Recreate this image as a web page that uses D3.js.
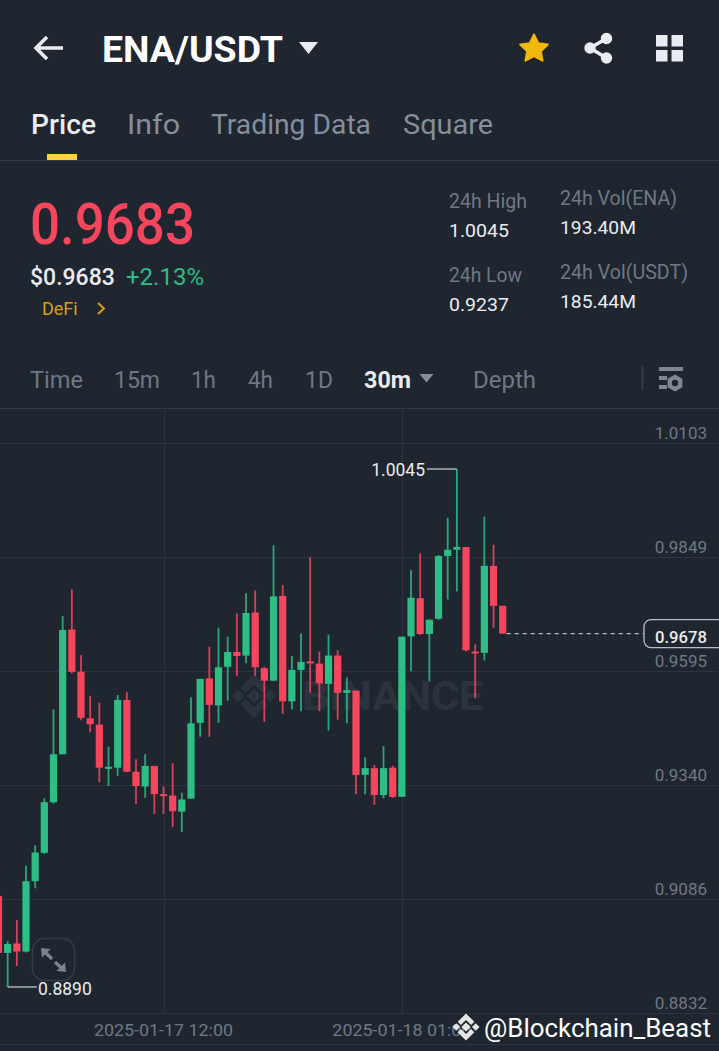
<!DOCTYPE html>
<html>
<head>
<meta charset="utf-8">
<script src="https://cdn.jsdelivr.net/npm/d3@7"></script>
<style>
  html, body { margin: 0; padding: 0; background: #1f2630; }
  svg { display: block; }
  text { font-family: Roboto, sans-serif; }
</style>
</head>
<body>
<svg id="chart"></svg>
<script>
// candles, oldest first, 30m interval
const opens = [0.9093,0.8966,0.8987,0.8969,0.9126,0.9189,0.9302,0.9409,0.9687,0.9593,0.9489,0.9475,0.9378,0.9379,0.9530,0.9370,0.9337,0.9383,0.9320,0.9317,0.9281,0.9310,0.9479,0.9578,0.9518,0.9604,0.9637,0.9629,0.9725,0.9601,0.9573,0.9762,0.9527,0.9597,0.9616,0.9611,0.9566,0.9629,0.9546,0.9551,0.9363,0.9378,0.9318,0.9379,0.9314,0.9672,0.9757,0.9677,0.9711,0.9851,0.9865,0.9871,0.9638,0.9635,0.9829,0.9740];
const highs = [0.9106,0.8992,0.9039,0.9161,0.9206,0.9311,0.9509,0.9717,0.9777,0.9630,0.9539,0.9524,0.9426,0.9541,0.9548,0.9398,0.9409,0.9383,0.9337,0.9389,0.9323,0.9536,0.9577,0.9649,0.9691,0.9671,0.9723,0.9768,0.9774,0.9604,0.9875,0.9786,0.9628,0.9678,0.9848,0.9638,0.9676,0.9641,0.9580,0.9551,0.9402,0.9385,0.9427,0.9383,0.9671,0.9819,0.9857,0.9709,0.9853,0.9936,1.0045,0.9871,0.9654,0.9939,0.9876,0.9740];
const lows = [0.8957,0.8890,0.8937,0.8967,0.9110,0.9187,0.9299,0.9409,0.9589,0.9485,0.9458,0.9346,0.9338,0.9361,0.9369,0.9298,0.9312,0.9276,0.9276,0.9247,0.9236,0.9309,0.9448,0.9448,0.9479,0.9528,0.9583,0.9612,0.9584,0.9481,0.9573,0.9499,0.9509,0.9505,0.9546,0.9505,0.9462,0.9486,0.9478,0.9320,0.9320,0.9296,0.9311,0.9312,0.9314,0.9594,0.9675,0.9571,0.9709,0.9754,0.9772,0.9638,0.9534,0.9618,0.9691,0.9678];
const closes = [0.8966,0.8986,0.8969,0.9126,0.9190,0.9302,0.9409,0.9686,0.9593,0.9490,0.9476,0.9379,0.9381,0.9530,0.9370,0.9338,0.9383,0.9320,0.9316,0.9282,0.9308,0.9478,0.9577,0.9519,0.9603,0.9637,0.9628,0.9724,0.9603,0.9573,0.9761,0.9527,0.9597,0.9615,0.9612,0.9567,0.9629,0.9546,0.9552,0.9363,0.9378,0.9318,0.9378,0.9314,0.9671,0.9758,0.9677,0.9709,0.9851,0.9865,0.9871,0.9641,0.9635,0.9829,0.9740,0.9678];

const priceTicks = [1.0103, 0.9849, 0.9595, 0.9340, 0.9086, 0.8832];
const timeTicks = [18, 44];
const timeLabels = ["2025-01-17 12:00", "2025-01-18 01:00"];
const lastPrice = 0.9678;
const highMark = { i: 50, v: 1.0045 };
const lowMark = { i: 1, v: 0.8890 };

const tabs = ["Price", "Info", "Trading Data", "Square"];
const tabX = [31, 127, 211, 403];
const tabW = [65, 53, 160, 90];
const intervals = ["Time", "15m", "1h", "4h", "1D", "30m", "Depth"];
const intervalX = [30, 114, 191, 248, 305, 364, 473];
const intervalW = [53, 46, 25, 25, 28, 47, 63];

const width = 719;
const height = 1051;
const bg = "#1f2630";
const green = "#2ebd85";
const red = "#f6465d";
const grid = "#2e343f";
const white = "#eaecef";
const grey = "#848e9c";
const dimGrey = "#6f7885";

const svg = d3.select("#chart").attr("width", width).attr("height", height);
svg.append("rect").attr("width", width).attr("height", height).attr("fill", bg);

const x = d3.scaleLinear().domain([0, 55]).range([-1.5, 502.7]);
const y = d3.scaleLinear().domain([0.8832, 1.0103]).range([1013, 443]);

function label(str, px, py, size, color, weight, anchor, fit) {
  const t = svg.append("text")
    .attr("x", px)
    .attr("y", py)
    .attr("font-size", size)
    .attr("fill", color)
    .attr("font-weight", weight || 400)
    .attr("text-anchor", anchor || "start")
    .text(str);
  if (fit) t.attr("textLength", fit).attr("lengthAdjust", "spacingAndGlyphs");
  return t;
}

// header
svg.append("path")
  .attr("d", "M36 48H63M47 37L36 48L47 59")
  .attr("fill", "none")
  .attr("stroke", white)
  .attr("stroke-width", 3.6);
label("ENA/USDT", 102, 62, 36, "#ffffff", 700, "start", 181);
svg.append("path").attr("d", "M299 42H318L308.5 54Z").attr("fill", white);

const star = d3.range(10).map((i) => {
  const r = i % 2 ? 7.2 : 14.5;
  const a = (i * Math.PI) / 5;
  return [534 + r * Math.sin(a), 49 - r * Math.cos(a)];
});
svg.append("path")
  .attr("d", d3.line().curve(d3.curveLinearClosed)(star))
  .attr("fill", "#f0b90b")
  .attr("stroke", "#f0b90b")
  .attr("stroke-width", 2)
  .attr("stroke-linejoin", "round");

svg.append("path")
  .attr("d", "M606.5 38.5L590 48L606.5 58")
  .attr("fill", "none")
  .attr("stroke", white)
  .attr("stroke-width", 3.5);
[[606.5, 38.5], [590, 48], [606.5, 58]].forEach((c) => {
  svg.append("circle").attr("cx", c[0]).attr("cy", c[1]).attr("r", 5.7).attr("fill", white);
});
[[656, 35], [671.5, 35], [656, 50], [671.5, 50]].forEach((c) => {
  svg.append("rect").attr("x", c[0]).attr("y", c[1]).attr("width", 11.5).attr("height", 11.5).attr("fill", white);
});

// tabs
tabs.forEach((t, i) => {
  label(t, tabX[i], 134, 28, i === 0 ? white : grey, i === 0 ? 500 : 400, "start", tabW[i]);
});
svg.append("rect").attr("x", 47).attr("y", 154).attr("width", 30).attr("height", 6).attr("fill", "#fcd535");
svg.append("line").attr("x1", 0).attr("x2", width).attr("y1", 160.5).attr("y2", 160.5).attr("stroke", "#333a46");

// ticker block
label("0.9683", 30, 244, 58, red, 500, "start", 165);
label("$0.9683", 30, 285, 23, white, 500);
label("+2.13%", 126, 285, 24, green, 400, "start", 78);
label("DeFi", 42, 315, 18, "#d6a010");
svg.append("path")
  .attr("d", "M98 303L104 308.5L98 314")
  .attr("fill", "none")
  .attr("stroke", "#d6a010")
  .attr("stroke-width", 2);

label("24h High", 449, 208, 20, dimGrey, 400, "start", 78);
label("1.0045", 449, 237, 19, white, 400, "start", 60);
label("24h Low", 449, 282, 20, dimGrey, 400, "start", 73);
label("0.9237", 449, 311, 19, white, 400, "start", 60);
label("24h Vol(ENA)", 560, 205, 20, dimGrey, 400, "start", 117);
label("193.40M", 560, 234, 19, white, 400, "start", 76);
label("24h Vol(USDT)", 560, 279, 20, dimGrey, 400, "start", 128);
label("185.44M", 560, 308, 19, white, 400, "start", 76);

// interval row
intervals.forEach((t, i) => {
  const active = t === "30m";
  label(t, intervalX[i], 388, 23, active ? white : "#6f7885", active ? 700 : 400, "start", intervalW[i]);
});
svg.append("path").attr("d", "M419.5 374H433.5L426.5 382.5Z").attr("fill", grey);
svg.append("line").attr("x1", 642.5).attr("x2", 642.5).attr("y1", 366).attr("y2", 390).attr("stroke", "#3a414d").attr("stroke-width", 1.5);
svg.append("path")
  .attr("d", "M659 369H683M659 378H667M659 387H667")
  .attr("stroke", "#808793")
  .attr("stroke-width", 4);
const nut = d3.range(6).map((i) => {
  const a = (i * Math.PI) / 3;
  return [675 + 8.5 * Math.sin(a), 383 - 8.5 * Math.cos(a)];
});
svg.append("path")
  .attr("d", d3.line().curve(d3.curveLinearClosed)(nut))
  .attr("fill", "#808793");
svg.append("circle").attr("cx", 675).attr("cy", 383).attr("r", 3.2).attr("fill", bg);

svg.append("line").attr("x1", 0).attr("x2", width).attr("y1", 408.5).attr("y2", 408.5).attr("stroke", "#333a46");

// grid
svg.append("g")
  .selectAll("line")
  .data(priceTicks)
  .join("line")
  .attr("x1", 0)
  .attr("x2", width)
  .attr("y1", (d) => Math.round(y(d)) + 0.5)
  .attr("y2", (d) => Math.round(y(d)) + 0.5)
  .attr("stroke", grid);

svg.append("g")
  .selectAll("line")
  .data(timeTicks)
  .join("line")
  .attr("x1", (d) => Math.round(x(d)) + 0.5)
  .attr("x2", (d) => Math.round(x(d)) + 0.5)
  .attr("y1", 409)
  .attr("y2", 1013)
  .attr("stroke", grid);

svg.append("line").attr("x1", 0).attr("x2", width).attr("y1", 1044.5).attr("y2", 1044.5).attr("stroke", grid);

// watermark
function binanceLogo(g, cx, cy, s, fill) {
  const unit = [
    "M0 -0.34L0.34 0L0 0.34L-0.34 0Z",
    "M-1 0L-0.72 -0.28L-0.44 0L-0.72 0.28Z",
    "M1 0L0.72 -0.28L0.44 0L0.72 0.28Z",
    "M0 -1L0.62 -0.38L0.38 -0.14L0 -0.52L-0.38 -0.14L-0.62 -0.38Z",
    "M0 1L0.62 0.38L0.38 0.14L0 0.52L-0.38 0.14L-0.62 0.38Z"
  ];
  g.append("path")
    .attr("transform", `translate(${cx},${cy}) scale(${s})`)
    .attr("d", unit.join(""))
    .attr("fill", fill);
}
binanceLogo(svg, 254, 696, 22, "#2d333e");
label("BINANCE", 302, 710, 41, "#2d333e", 700, "start", 181);

// price axis labels
svg.append("g")
  .selectAll("text")
  .data(priceTicks)
  .join("text")
  .attr("x", 707)
  .attr("y", (d) => y(d) - 4)
  .attr("text-anchor", "end")
  .attr("font-size", 17)
  .attr("fill", dimGrey)
  .text((d) => d.toFixed(4));

// candles
const candles = svg.append("g")
  .selectAll("g")
  .data(opens.map((o, i) => i))
  .join("g")
  .attr("fill", (i) => (closes[i] >= opens[i] ? green : red))
  .attr("stroke", (i) => (closes[i] >= opens[i] ? green : red));

candles.append("line")
  .attr("x1", (i) => x(i))
  .attr("x2", (i) => x(i))
  .attr("y1", (i) => y(highs[i]))
  .attr("y2", (i) => y(lows[i]))
  .attr("stroke-width", 1.8)
  .attr("stroke-opacity", 0.85);

candles.append("rect")
  .attr("x", (i) => x(i) - 3.6)
  .attr("width", 7.2)
  .attr("y", (i) => y(Math.max(opens[i], closes[i])))
  .attr("height", (i) => Math.max(2, Math.abs(y(opens[i]) - y(closes[i]))))
  .attr("stroke", "none");

// high / low markers
svg.append("path")
  .attr("d", `M${x(highMark.i)} ${y(highMark.v)}H427`)
  .attr("stroke", "#aab0b8")
  .attr("stroke-width", 1.5);
label(highMark.v.toFixed(4), 425, y(highMark.v) + 7, 17.5, white, 400, "end");
svg.append("path")
  .attr("d", `M${x(lowMark.i)} ${y(lowMark.v)}H37`)
  .attr("stroke", "#aab0b8")
  .attr("stroke-width", 1.5);
label(lowMark.v.toFixed(4), 38, y(lowMark.v) + 8, 17.5, white);

// last price
svg.append("line")
  .attr("x1", x(55) + 4)
  .attr("x2", 644)
  .attr("y1", y(lastPrice))
  .attr("y2", y(lastPrice))
  .attr("stroke", "#b7bdc6")
  .attr("stroke-width", 1.3)
  .attr("stroke-dasharray", "4 4");
svg.append("rect")
  .attr("x", 644)
  .attr("y", y(lastPrice) - 14)
  .attr("width", 90)
  .attr("height", 28)
  .attr("rx", 7)
  .attr("fill", bg)
  .attr("stroke", "#b7bdc6")
  .attr("stroke-width", 1.3);
label(lastPrice.toFixed(4), 655, y(lastPrice) + 9, 17, white, 500, "start", 52);

// expand button
svg.append("rect")
  .attr("x", 32.5)
  .attr("y", 938.5)
  .attr("width", 42)
  .attr("height", 42)
  .attr("rx", 12)
  .attr("fill", bg)
  .attr("stroke", "#373d49")
  .attr("stroke-width", 1.5);
svg.append("path")
  .attr("d", "M41 948L50.5 949L42 957.5ZM66 972L56.5 971L65 962.5Z")
  .attr("fill", "#7d838e");
svg.append("path")
  .attr("d", "M45 952L52 959M55 962L62 968.5")
  .attr("stroke", "#7d838e")
  .attr("stroke-width", 3.2);

// time labels
timeTicks.forEach((t, i) => {
  label(timeLabels[i], x(t), 1036, 17, dimGrey, 400, "middle", 139);
});

// repost tag
binanceLogo(svg, 466, 1027, 13.5, "#e6e6e6");
label("@Blockchain_Beast", 484, 1037, 26, "#ffffff", 400, "start", 227);
</script>
</body>
</html>
